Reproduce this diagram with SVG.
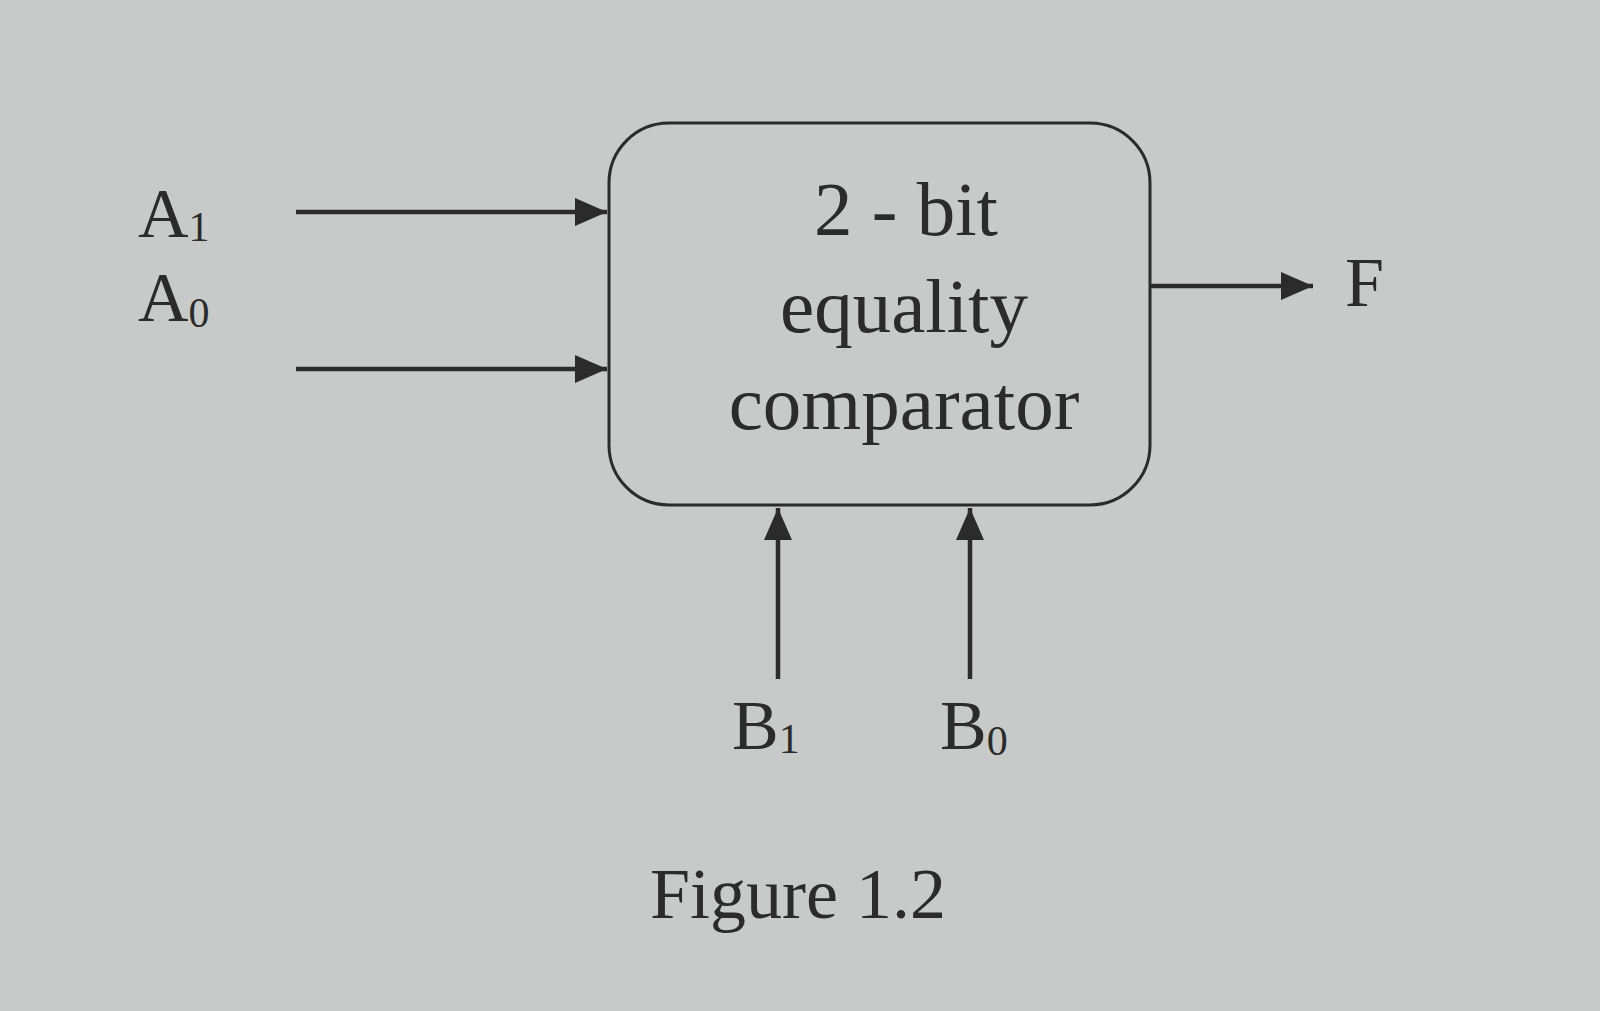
<svg xmlns="http://www.w3.org/2000/svg" width="1600" height="1011" viewBox="0 0 1600 1011">
<style>
.t{font-family:"Liberation Serif","DejaVu Serif",serif;fill:#2b2b2b}
.c{stroke:#2b2b2b;stroke-width:4.5;fill:none}
</style>
<defs>
<marker id="ah" markerUnits="userSpaceOnUse" markerWidth="34" markerHeight="32" refX="32" refY="16" orient="auto">
<path d="M0,2 L32,16 L0,30 Z" fill="#2b2b2b"/>
</marker>
</defs>
<rect width="1600" height="1011" fill="#c8cac9"/>
<g id="comparator">
<rect x="609" y="123" width="541" height="382" rx="60" ry="60" fill="none" stroke="#2b2b2b" stroke-width="3"/>
<text class="t" font-size="77" text-anchor="middle" x="906" y="235">2 - bit</text>
<text class="t" font-size="77" text-anchor="middle" x="904" y="332">equality</text>
<text class="t" font-size="77" text-anchor="middle" x="904" y="429">comparator</text>
</g>
<g id="connectors">
<line class="c" x1="296" y1="212" x2="607" y2="212" marker-end="url(#ah)"/>
<line class="c" x1="296" y1="369" x2="607" y2="369" marker-end="url(#ah)"/>
<line class="c" x1="1150" y1="286" x2="1313" y2="286" marker-end="url(#ah)"/>
<line class="c" x1="778" y1="679" x2="778" y2="508" marker-end="url(#ah)"/>
<line class="c" x1="970" y1="679" x2="970" y2="508" marker-end="url(#ah)"/>
</g>
<g id="label-A1"><text class="t" font-size="70" x="138" y="237">A<tspan font-size="42" dy="4">1</tspan></text></g>
<g id="label-A0"><text class="t" font-size="70" x="138" y="321">A<tspan font-size="42" dy="6">0</tspan></text></g>
<g id="label-F"><text class="t" font-size="70" x="1345" y="306">F</text></g>
<g id="label-B1"><text class="t" font-size="70" x="732" y="749">B<tspan font-size="42" dy="4">1</tspan></text></g>
<g id="label-B0"><text class="t" font-size="70" x="940" y="749">B<tspan font-size="42" dy="6">0</tspan></text></g>
<g id="caption"><text class="t" font-size="72" x="650" y="918">Figure 1.2</text></g>
</svg>
